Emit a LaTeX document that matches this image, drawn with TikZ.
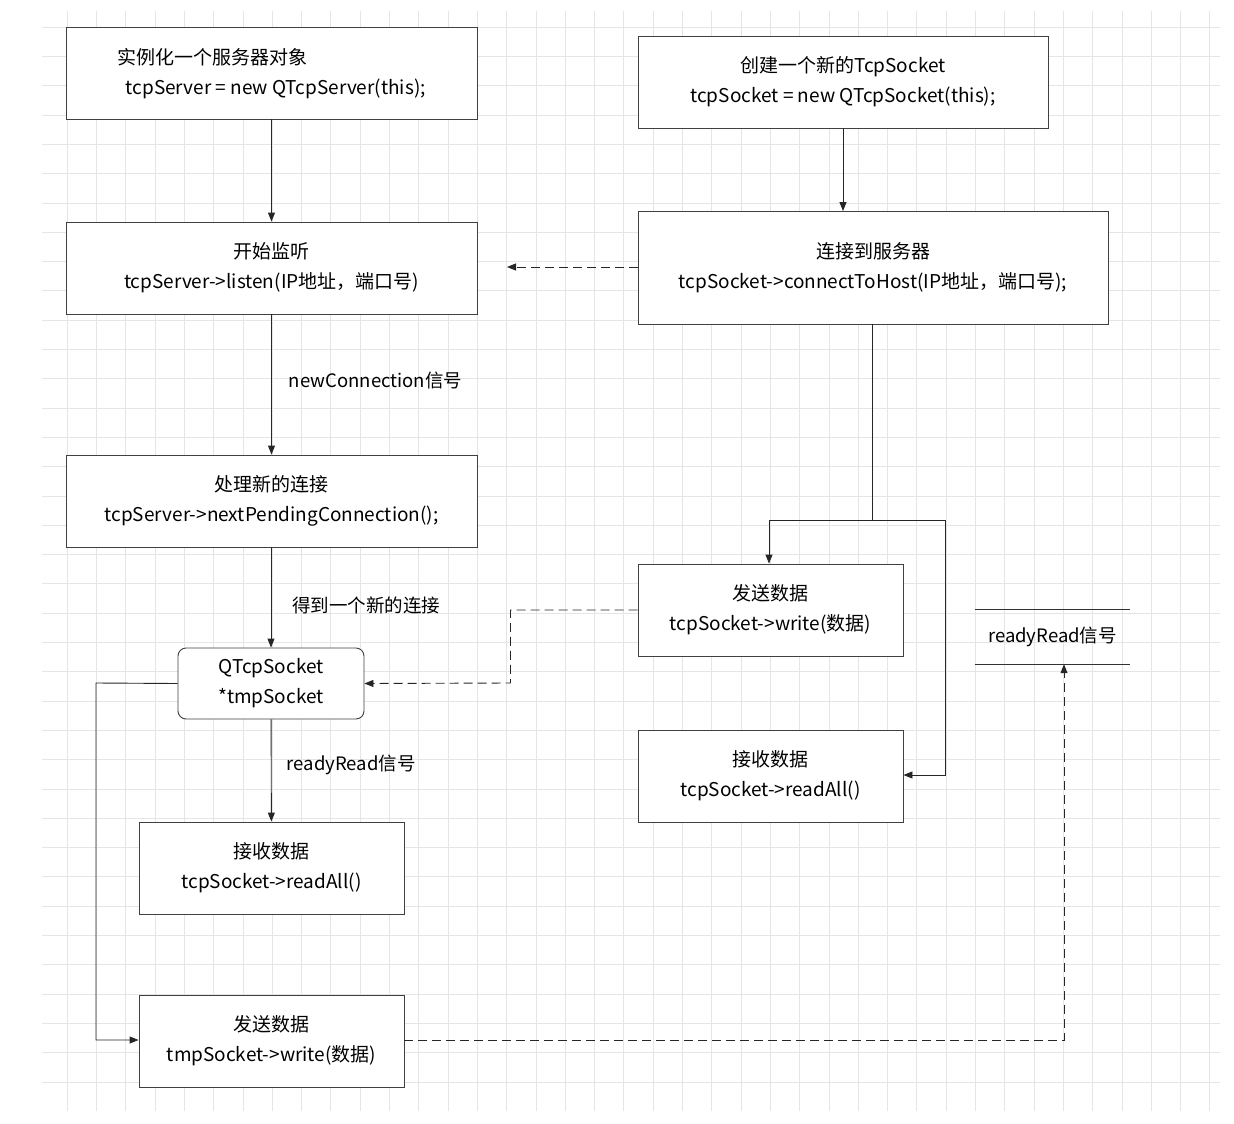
\documentclass[tikz,border=0pt]{standalone}
\usepackage{fontspec}
\setmainfont{Noto Sans CJK SC}
\usetikzlibrary{arrows.meta}
\begin{document}
\begin{tikzpicture}[x=1pt,y=-1pt,
 box/.style={draw=black!75,line width=0.9pt,fill=white,inner sep=0pt,align=center,font=\fontsize{19}{30}\selectfont},
 lab/.style={font=\fontsize{18.5}{22}\selectfont,inner sep=1pt},
 con/.style={draw=black!85,line width=0.9pt,-{Triangle[length=9pt,width=7pt]}},
 dsh/.style={con,dash pattern=on 9pt off 5pt}]
\useasboundingbox (0,0) rectangle (1234,1124);
\fill[white] (0,0) rectangle (1234,1124);
\begin{scope}
\clip (42,12) rectangle (1220,1110);
\foreach \i in {-1,...,40} {\draw[black!10,line width=0.6pt] ({67+29.3*\i},0) -- ({67+29.3*\i},1124);}
\foreach \i in {-1,...,38} {\draw[black!10,line width=0.6pt] (0,{27+29.3*\i}) -- (1234,{27+29.3*\i});}
\end{scope}
\node[box,minimum width=411pt,minimum height=92pt] (A) at (271.5,73) {\begin{tabular}{@{}l@{}}实例化一个服务器对象\\\ \ tcpServer = new QTcpServer(this);\end{tabular}};
\node[box,minimum width=410pt,minimum height=92pt] (B) at (843,82) {创建一个新的TcpSocket\\tcpSocket = new QTcpSocket(this);};
\node[box,minimum width=411pt,minimum height=92pt] (C) at (271.5,268) {开始监听\\tcpServer->listen(IP地址，端口号)};
\node[box,minimum width=470pt,minimum height=113pt] (D) at (873,267.5) {连接到服务器\\tcpSocket->connectToHost(IP地址，端口号);};
\node[box,minimum width=411pt,minimum height=92pt] (E) at (271.5,501) {处理新的连接\\tcpServer->nextPendingConnection();};
\node[box,rounded corners=8pt,minimum width=186pt,minimum height=71pt] (F) at (271,683.5) {QTcpSocket\\*tmpSocket};
\node[box,minimum width=265pt,minimum height=92pt] (G) at (271.5,868) {接收数据\\tcpSocket->readAll()};
\node[box,minimum width=265pt,minimum height=92pt] (H) at (271.5,1041) {发送数据\\tmpSocket->write(数据)};
\node[box,minimum width=265pt,minimum height=92pt] (I) at (770.5,610) {发送数据\\tcpSocket->write(数据)};
\node[box,minimum width=265pt,minimum height=92pt] (J) at (770.5,776) {接收数据\\tcpSocket->readAll()};
\node[lab,minimum width=155pt,minimum height=54pt] (K) at (1052.5,637) {readyRead信号};
\draw[black!80,line width=0.9pt] (K.north west) -- (K.north east) (K.south west) -- (K.south east);
\coordinate (cd) at (507,267);
\draw[con] (A) -- (C);
\draw[con] (B.south -| 843,0) -- (843,211);
\draw[dsh] (D.west |- cd) -- (cd);
\draw[con] (C) -- node[lab,right,xshift=16pt,yshift=4pt] {newConnection信号} (E);
\draw[con] (E.south -| F) -- node[lab,right,xshift=20pt,yshift=-8pt] {得到一个新的连接} (F);
\draw[con] (F) -- node[lab,right,xshift=14pt,yshift=6pt] {readyRead信号} (G);
\draw[con] (872,324) -- (872,520) -- (769,520) -- (I.north -| 769,0);
\draw[con] (872,520) -- (945,520) -- (945,775) -- (J.east |- 0,775);
\draw[dsh] (I.west) -- (510.5,610) -- (510.5,683) -- (F.east);
\draw[con] (F.west) -- (96,683) -- (96,1040) -- (H.west |- 0,1040);
\draw[dsh] (H.east |- 0,1040) -- (1064,1040) -- (K.south -| 1064,0);
\end{tikzpicture}
\end{document}
